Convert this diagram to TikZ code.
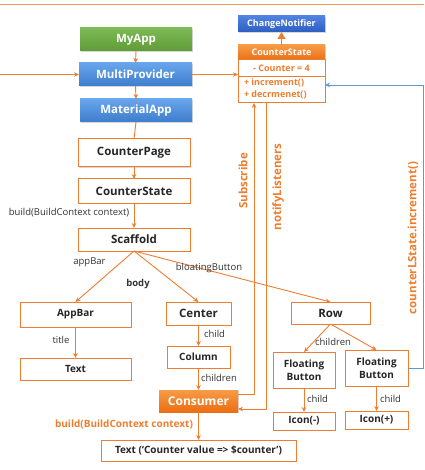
\documentclass[tikz,border=0pt]{standalone}
\usepackage{fontspec}
\setmainfont{Open Sans}
\usetikzlibrary{arrows.meta,shadows,calc}
\definecolor{org}{HTML}{ED7D31}
\definecolor{orgtext}{HTML}{EE7E2E}
\definecolor{blueline}{HTML}{5B9BD5}
\begin{document}
\begin{tikzpicture}[x=1pt,y=-1pt,
  every node/.style={inner sep=0pt,outer sep=0pt},
  arr/.style={draw=org,line width=0.9pt,-{Stealth[length=5pt,width=4.5pt]}},
  ln/.style={draw=org,line width=0.9pt},
  wbox/.style={draw=org,line width=1pt,fill=white,font=\bfseries\fontsize{11.5}{13}\selectfont,text=black!85,
     drop shadow={shadow xshift=1pt,shadow yshift=-1pt,fill=black!25,opacity=0.6}},
  greenbox/.style={draw=none,top color={rgb,255:red,125;green,185;blue,85},bottom color={rgb,255:red,95;green,155;blue,55},
     font=\bfseries\fontsize{11.5}{13}\selectfont,text=white,
     drop shadow={shadow xshift=1pt,shadow yshift=-1pt,fill=black!25,opacity=0.6}},
  bluebox/.style={draw=none,top color={rgb,255:red,104;green,165;blue,235},bottom color={rgb,255:red,62;green,125;blue,205},
     font=\bfseries\fontsize{11.5}{13}\selectfont,text=white,
     drop shadow={shadow xshift=1pt,shadow yshift=-1pt,fill=black!25,opacity=0.6}},
  dbluebox/.style={draw=none,top color={rgb,255:red,80;green,130;blue,225},bottom color={rgb,255:red,45;green,95;blue,195},
     font=\bfseries\fontsize{9}{10}\selectfont,text=white,
     drop shadow={shadow xshift=1pt,shadow yshift=-1pt,fill=black!25,opacity=0.6}},
  obox/.style={draw=none,top color={rgb,255:red,247;green,155;blue,70},bottom color={rgb,255:red,235;green,110;blue,20},
     font=\bfseries\fontsize{12}{13}\selectfont,text=white,
     drop shadow={shadow xshift=1pt,shadow yshift=-1pt,fill=black!25,opacity=0.6}},
  umlpart/.style={draw=org,line width=1pt,fill=white,font=\bfseries\fontsize{9}{10}\selectfont,text=orgtext},
  lbl/.style={font=\fontsize{9.5}{11}\selectfont,text=black!80},
  olbl/.style={font=\bfseries\fontsize{9}{10}\selectfont,text=orgtext},
  vlbl/.style={font=\bfseries\fontsize{11.5}{13}\selectfont,text=orgtext,rotate=90},
  smallb/.style={font=\bfseries\fontsize{10}{11}\selectfont}
]
\useasboundingbox (0,0) rectangle (424,470);
\fill[white] (0,0) rectangle (424,470);
% top line
\draw[ln,draw=org!80] (0,4) -- (424,4);

% top blue/green boxes
\node[greenbox,minimum width=112pt,minimum height=23pt] (myapp) at (136,39.5) {MyApp};
\node[bluebox,minimum width=113pt,minimum height=23pt] (multi) at (135.5,74.5) {MultiProvider};
\node[bluebox,minimum width=112pt,minimum height=23pt] (material) at (136,110.5) {MaterialApp};

% white boxes
\node[wbox,minimum width=112pt,minimum height=28pt] (cpage) at (134,153) {CounterPage};
\node[wbox,minimum width=112pt,minimum height=24pt] (cstate) at (134,191) {CounterState};
\node[wbox,minimum width=112pt,minimum height=23pt] (scaffold) at (134,239.5) {Scaffold};
\node[wbox,minimum width=111pt,minimum height=25pt,smallb] (appbar) at (75.5,314.5) {AppBar};
\node[wbox,minimum width=111pt,minimum height=22pt,smallb] (text1) at (75.5,369) {Text};
\node[wbox,minimum width=65pt,minimum height=23pt] (center) at (198.5,313.5) {Center};
\node[wbox,minimum width=63pt,minimum height=22pt,smallb] (column) at (198.5,357) {Column};
\node[obox,minimum width=79pt,minimum height=22pt] (consumer) at (198.5,401) {Consumer};
\node[wbox,minimum width=195pt,minimum height=21pt,smallb] (textc) at (198.5,450.5) {Text (‘Counter value => \$counter’)};
\node[wbox,minimum width=79pt,minimum height=22pt] (row) at (330.5,313) {Row};
\node[wbox,minimum width=62pt,minimum height=36pt,align=center,font=\bfseries\fontsize{10}{13}\selectfont] (fb1) at (304,370) {Floating\\Button};
\node[wbox,minimum width=63pt,minimum height=36pt,align=center,font=\bfseries\fontsize{10}{13}\selectfont] (fb2) at (376.5,368) {Floating\\Button};
\node[wbox,minimum width=62pt,minimum height=18pt,smallb] (icon1) at (304,421) {Icon(-)};
\node[wbox,minimum width=63pt,minimum height=18pt,smallb] (icon2) at (376.5,420) {Icon(+)};

% UML CounterState
\node[dbluebox,minimum width=87pt,minimum height=16pt] (cnotif) at (281.5,24) {ChangeNotifier};
\node[obox,minimum width=87pt,minimum height=15pt,font=\bfseries\fontsize{9}{10}\selectfont] (cshead) at (281.5,52.5) {CounterState};
\node[umlpart,minimum width=87pt,minimum height=17pt] (csattr) at (281.5,68.5) {- Counter = 4};
\node[umlpart,minimum width=87pt,minimum height=26pt] (csmeth) at (281.5,90) {};
\node[olbl,anchor=west] (m1) at (244,83) {+ increment()};
\node[olbl,anchor=west] (m2) at (244,95) {+ decrmenet()};
\draw[draw=org,line width=1pt,-{Triangle[length=7pt,width=8pt]}] (cshead.north) -- (cnotif.south);

% top connectors
\coordinate (leftin) at (0,74.5);
\draw[arr] (leftin) -- (multi.west);
\draw[arr] (multi.east) -- (multi.east -| csattr.west);
\draw[arr] (myapp.south) -- (multi.north);
\draw[arr] (multi.south) -- (material.north);
\draw[ln] (material.south) -- (cpage.north);
\draw[arr] (cpage.south) -- (cstate.north);
\draw[arr] (cstate.south) -- (scaffold.north);
\node[lbl] (bclbl) at (69,213) {build(BuildContext context)};

% scaffold children
\draw[arr] (scaffold.south) -- (appbar.north);
\draw[arr] (scaffold.south) -- (center.north);
\draw[arr] (scaffold.south) -- (row.north);
\node[lbl] (lappbar) at (89.5,262) {appBar};
\node[lbl,font=\bfseries\fontsize{9.5}{11}\selectfont] (lbody) at (138,284) {body};
\node[lbl] (lbloat) at (209,268) {bloatingButton};

\draw[arr] (appbar.south) -- (text1.north);
\node[lbl] (ltitle) at (61,340) {title};
\draw[arr] (center.south) -- (column.north);
\node[lbl,anchor=west] (lchild) at (204,334) {child};
\draw[arr] (column.south) -- (consumer.north);
\node[lbl,anchor=west] (lchildren) at (201,378) {children};
\draw[arr] (consumer.south) -- (textc.north);
\node[olbl,font=\bfseries\fontsize{10}{11}\selectfont] (obuild) at (124,424) {build(BuildContext context)};

% row
\draw[arr] (row.south) -- (fb1.north);
\draw[arr] (row.south) -- (fb2.north);
\node[lbl] (lrowch) at (333,342) {children};
\draw[arr] (fb1.south) -- (icon1.north);
\draw[arr] (fb2.south) -- (icon2.north);
\node[lbl,anchor=west] (lc1) at (307,399) {child};
\node[lbl,anchor=west] (lc2) at (380,399) {child};

% subscribe / notify
\coordinate (subA) at (254,394);
\coordinate (notA) at (266,409);
\draw[arr] (consumer.east |- subA) -| (csmeth.south -| subA);
\draw[arr] (csmeth.south -| notA) |- (consumer.east |- notA);
\node[vlbl] (lsub) at (243,181) {Subscribe};
\node[vlbl] (lnot) at (278,187) {notifyListeners};

% blue line
\coordinate (blTop) at (423,85);
\draw[draw=blueline,line width=0.9pt,-{Stealth[length=5pt,width=4.5pt]}] (fb2.east) -| (blTop) -- (blTop -| csmeth.east);
\node[vlbl] (linc) at (413,238) {counterLState.increment()};
\end{tikzpicture}
\end{document}
